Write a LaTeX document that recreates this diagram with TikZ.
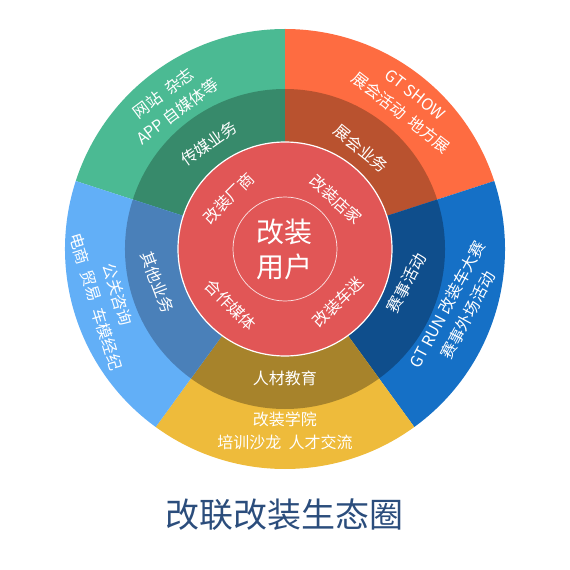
\documentclass[tikz,border=0pt]{standalone}
\usepackage{fontspec}
\setmainfont{Noto Sans CJK SC}
\definecolor{grnout}{HTML}{4BBA93}
\definecolor{grnin}{HTML}{378A6B}
\definecolor{orgout}{HTML}{FE6C41}
\definecolor{orgin}{HTML}{B9522F}
\definecolor{bluout}{HTML}{1570C6}
\definecolor{bluin}{HTML}{0F4E8C}
\definecolor{ylwout}{HTML}{EEBB3B}
\definecolor{ylwin}{HTML}{A7832B}
\definecolor{skyout}{HTML}{62AFF7}
\definecolor{skyin}{HTML}{4A80B9}
\definecolor{corered}{HTML}{E15656}
\definecolor{titleblue}{HTML}{2B4D7C}
\newcommand{\wgap}{\hspace{0.45em}}
\begin{document}
\begin{tikzpicture}[x=1pt,y=1pt,
    lbl/.style={text=white,align=center,inner sep=0pt,
      font=\fontsize{16}{23}\selectfont},
    corelbl/.style={text=white,align=center,inner sep=0pt,
      font=\fontsize{28}{35}\selectfont}]
      \useasboundingbox (-285,-321) rectangle (285,249);

      % SECTORS
      \foreach \a/\co/\ci in {90/grnout/grnin, 18/orgout/orgin,
          -54/bluout/bluin, -126/ylwout/ylwin, 162/skyout/skyin}
      {
        \fill[\co] (0,0) -- (\a:220) arc (\a:\a+72:220) -- cycle;
        \fill[\ci] (0,0) -- (\a:160) arc (\a:\a+72:160) -- cycle;
      }

      % CORE
      \draw[fill=corered,draw=white,line width=1.2pt] (0,0) circle (107);
      \draw[draw=white!85!corered,line width=0.7pt] (0,0) circle (52);
      \node[corelbl] (user) at (0,0) {改装\\用户};

      % RED RING
      \node[lbl,rotate=45]  (maker)  at (138:76) {改装厂商};
      \node[lbl,rotate=-42] (shop)   at (44:71)  {改装店家};
      \node[lbl,rotate=-45] (press)  at (226:78) {合作媒体};
      \node[lbl,rotate=45]  (fans)   at (-45:75) {改装车迷};

      % MIDDLE RING
      \node[lbl,rotate=35]  (media)  at (125.6:130) {传媒业务};
      \node[lbl,rotate=-39] (expo)   at (53:126)    {展会业务};
      \node[lbl,rotate=62]  (race)   at (-15.7:126) {赛事活动};
      \node[lbl]            (edu)    at (270:129)   {人材教育};
      \node[lbl,rotate=-69] (other)  at (194.5:132) {其他业务};

      % OUTER RING
      \node[lbl,rotate=37]  (mediax) at (128:186)   {网站\wgap 杂志\\APP 自媒体等};
      \node[lbl,rotate=-38] (expox)  at (49.7:190)  {GT SHOW\\展会活动\wgap 地方展};
      \node[lbl,rotate=62]  (racex)  at (-19.4:183) {GT RUN 改装车大赛\\赛事外场活动};
      \node[lbl]            (edux)   at (270:182)   {改装学院\\培训沙龙\wgap 人才交流};
      \node[lbl,rotate=-73] (otherx) at (195.4:185) {公关咨询\\电商\wgap 贸易\wgap 车模经纪};

      % TITLE
      \node[text=titleblue,inner sep=0pt,font=\fontsize{34}{40}\selectfont]
        (title) at (0,-266) {改联改装生态圈};
    \end{tikzpicture}
\end{document}
